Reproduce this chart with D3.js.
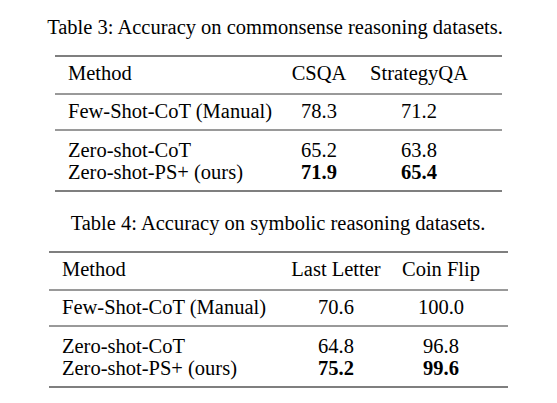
<!DOCTYPE html>
<html><head><meta charset="utf-8">
<script src="https://cdn.jsdelivr.net/npm/d3@7"></script>
<style>body{margin:0;background:#fff}text{font-family:"Liberation Serif","DejaVu Serif",serif;font-size:20.5px;fill:#000}</style>
</head><body><div id="canvas"></div>
<script>
const methods3 = ['Few-Shot-CoT (Manual)', 'Zero-shot-CoT', 'Zero-shot-PS+ (ours)'];
const cols3 = ['CSQA', 'StrategyQA'];
const vals3 = [[78.3, 71.2], [65.2, 63.8], [71.9, 65.4]];
const methods4 = ['Few-Shot-CoT (Manual)', 'Zero-shot-CoT', 'Zero-shot-PS+ (ours)'];
const cols4 = ['Last Letter', 'Coin Flip'];
const vals4 = [['70.6', '100.0'], ['64.8', '96.8'], ['75.2', '99.6']];

const svg = d3.select('#canvas').append('svg').attr('width', 557).attr('height', 403);

function table(o){
	let g = svg.append('g');
	g.append('text').attr('x', o.cx).attr('y', o.top - 22).attr('text-anchor', 'middle').text(o.caption);
	let y = d3.scaleOrdinal().domain(['h', 0, 1, 2]).range([o.top + 24, o.top + 62, o.top + 101, o.top + 123]);
	let x = d3.scaleOrdinal().domain([0, 1]).range(o.colX);
	// rules
	[[o.top, 1.2], [o.top + 38, 0.8], [o.top + 74, 0.8], [o.top + 135, 1.2]].forEach(r => {
		g.append('line').attr('x1', o.x0).attr('x2', o.x1).attr('y1', r[0]).attr('y2', r[0])
			.style('stroke', '#000').style('stroke-width', r[1]);
	});
	g.append('text').attr('x', o.x0 + 13).attr('y', y('h')).text('Method');
	o.cols.forEach((c, i) => g.append('text').attr('x', x(i)).attr('y', y('h')).attr('text-anchor', 'middle').text(c));
	o.methods.forEach((m, r) => {
		g.append('text').attr('x', o.x0 + 13).attr('y', y(r)).text(m);
		o.vals[r].forEach((v, i) => g.append('text').attr('x', x(i)).attr('y', y(r))
			.attr('text-anchor', 'middle').style('font-weight', r == 2 ? 'bold' : 'normal').text(v));
	});
}

table({caption: 'Table 3: Accuracy on commonsense reasoning datasets.', cx: 275, top: 56, x0: 55, x1: 502,
	colX: [319, 419], cols: cols3, methods: methods3, vals: vals3.map(r => r.map(v => v.toFixed(1)))});
table({caption: 'Table 4: Accuracy on symbolic reasoning datasets.', cx: 278, top: 252, x0: 49, x1: 508,
	colX: [336, 441], cols: cols4, methods: methods4, vals: vals4});
</script></body></html>
